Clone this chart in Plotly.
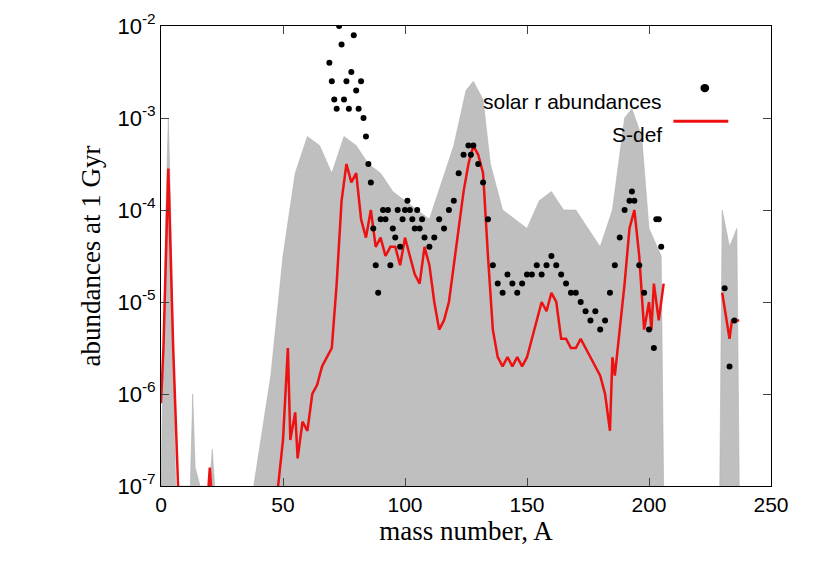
import plotly.graph_objects as go

# S-def red line (mass number, log10 abundance)
red_A = [0,1,3,5,7,9,12,14,16,18,20,22,46,48,50,52,53,55,56,58,60,62,64,66,68,70,72,74,76,78,80,82,84,86,88,90,92,94,96,98,100,102,104,106,108,110,112,114,116,118,120,122,124,126,128,130,132,134,136,138,140,142,144,146,148,150,152,154,156,158,160,162,164,166,168,170,172,174,176,178,180,182,184,185,186,188,190,192,194,196,198,200,201,202,204,206]
red_L = [-6.1,-5.5,-3.55,-5.5,-7.0,-7.6,-7.6,-7.1,-7.6,-7.6,-6.8,-7.6,-7.6,-7.0,-6.5,-5.5,-6.5,-6.2,-6.7,-6.3,-6.4,-6.0,-5.9,-5.7,-5.6,-5.5,-4.8,-3.9,-3.5,-3.7,-3.6,-4.1,-4.3,-4.0,-4.4,-4.3,-4.5,-4.4,-4.4,-4.6,-4.3,-4.5,-4.7,-4.8,-4.4,-4.6,-5.0,-5.3,-5.2,-5.0,-4.6,-4.2,-3.8,-3.5,-3.3,-3.4,-3.6,-4.5,-5.3,-5.6,-5.7,-5.6,-5.7,-5.6,-5.7,-5.6,-5.4,-5.2,-5.0,-5.1,-4.9,-5.0,-5.4,-5.4,-5.5,-5.5,-5.4,-5.5,-5.6,-5.7,-5.8,-6.0,-6.4,-5.6,-5.8,-5.3,-4.8,-4.2,-4.0,-4.5,-5.3,-5.0,-5.3,-4.8,-5.2,-4.8]
red2_A = [230,233,234,237]
red2_L = [-4.9,-5.4,-5.2,-5.2]

# solar r abundances
sol_A = [69,70,71,72,73,74,75,76,77,78,79,80,81,82,83,84,85,86,87,88,89,90,91,92,93,94,95,96,97,98,99,100,101,102,103,104,105,106,107,108,110,112,114,116,118,120,122,124,126,127,128,130,132,134,136,138,140,142,144,146,148,150,152,154,156,158,160,162,164,166,168,170,172,174,176,178,180,182,184,186,188,190,192,193,194,196,198,200,202,203,204,205,231,233,235]
sol_L = [-2.4,-2.6,-2.8,-2.9,-2.0,-2.2,-2.8,-2.6,-2.9,-2.5,-2.1,-2.7,-2.9,-2.6,-3.0,-3.2,-3.5,-3.7,-4.2,-4.6,-4.9,-4.1,-4.0,-4.1,-4.0,-4.6,-4.2,-4.3,-4.0,-4.4,-4.1,-4.0,-3.9,-4.0,-4.1,-4.2,-4.0,-4.2,-4.1,-4.3,-4.4,-4.3,-4.1,-4.2,-4.0,-3.9,-3.6,-3.4,-3.3,-3.4,-3.3,-3.5,-3.7,-4.1,-4.6,-4.8,-4.9,-4.7,-4.8,-4.9,-4.8,-4.7,-4.7,-4.6,-4.7,-4.6,-4.5,-4.6,-4.7,-4.8,-4.9,-4.9,-5.0,-5.1,-5.2,-5.1,-5.3,-5.2,-4.9,-4.6,-4.3,-4.0,-3.9,-3.8,-3.9,-4.6,-4.9,-5.3,-5.5,-4.1,-4.1,-4.4,-4.85,-5.7,-5.2]

# gray envelope of model runs
gray_A = [38,45,50,55,60,65,70,75,80,85,90,95,100,105,110,115,120,125,128,132,135,140,145,150,155,160,165,170,175,180,185,190,193,197,200,205,206]
gray_top = [-7.0,-5.8,-4.5,-3.6,-3.2,-3.3,-3.6,-3.2,-3.3,-3.5,-3.6,-3.8,-3.9,-4.0,-4.1,-3.7,-3.3,-2.7,-2.6,-2.8,-3.5,-4.0,-4.1,-4.2,-3.9,-3.8,-4.0,-4.0,-4.2,-4.4,-4.0,-3.0,-2.9,-3.2,-4.2,-4.5,-7.0]
gray2_A = [229,230,233,236,237]
gray2_top = [-7.0,-4.0,-4.4,-4.2,-7.0]
early_A = [0,2,3,4,6,12,13,14,16,20,21,22]
early_top = [-7.0,-4.0,-3.0,-4.0,-7.0,-7.0,-6.0,-6.8,-7.0,-7.0,-6.6,-7.0]

def lin(v):
    return [10**x for x in v]

fig = go.Figure()
for xs, ys in [(gray_A, gray_top), (gray2_A, gray2_top), (early_A, early_top)]:
    fig.add_trace(go.Scatter(x=xs + xs[::-1], y=lin(ys) + [1e-8]*len(xs), fill='toself',
                             fillcolor='rgba(170,170,170,0.75)', line=dict(color='#aaaaaa', width=0.5),
                             mode='lines', showlegend=False, hoverinfo='skip'))
fig.add_trace(go.Scatter(x=red_A, y=lin(red_L), mode='lines', line=dict(color='#ee1111', width=2.5), showlegend=False))
fig.add_trace(go.Scatter(x=red2_A, y=lin(red2_L), mode='lines', line=dict(color='#ee1111', width=2.5), showlegend=False))
fig.add_trace(go.Scatter(x=sol_A, y=lin(sol_L), mode='markers', marker=dict(color='black', size=6), showlegend=False))

tv = [1e-7,1e-6,1e-5,1e-4,1e-3,1e-2]
tt = ['10<sup>-7</sup>','10<sup>-6</sup>','10<sup>-5</sup>','10<sup>-4</sup>','10<sup>-3</sup>','10<sup>-2</sup>']
fig.update_layout(
    width=830, height=583, plot_bgcolor='white', paper_bgcolor='white',
    margin=dict(l=153, r=67, t=18, b=105),
    font=dict(family='Liberation Sans', size=20, color='black'),
    xaxis=dict(range=[0,250], tickvals=[0,50,100,150,200,250], ticks='inside', ticklen=8, automargin=False,
               tickfont=dict(size=21),
               showline=True, mirror='allticks', linecolor='black', linewidth=1, showgrid=False, zeroline=False,
               title=dict(text='mass number, A', font=dict(family='Liberation Serif', size=27), standoff=2)),
    yaxis=dict(type='log', range=[-7,-2], tickvals=tv, ticktext=tt, ticks='inside', ticklen=8, automargin=False,
               tickfont=dict(size=22),
               showline=True, mirror='allticks', linecolor='black', linewidth=1, showgrid=False, zeroline=False,
               title=dict(text='abundances at 1 Gyr', font=dict(family='Liberation Serif', size=27), standoff=8)),
)
fig.add_annotation(xref='paper', yref='paper', x=0.825, y=0.865, text='solar r abundances', showarrow=False,
                   xanchor='right', font=dict(size=21))
fig.add_annotation(xref='paper', yref='paper', x=0.825, y=0.793, text='S-def', showarrow=False,
                   xanchor='right', font=dict(size=21))
fig.add_shape(type='circle', xref='paper', yref='paper', x0=0.886, x1=0.897, y0=0.858, y1=0.872,
              fillcolor='black', line=dict(color='black'))
fig.add_shape(type='line', xref='paper', yref='paper', x0=0.84, x1=0.93, y0=0.793, y1=0.793,
              line=dict(color='#ee1111', width=3))
fig.write_html('out.html')
